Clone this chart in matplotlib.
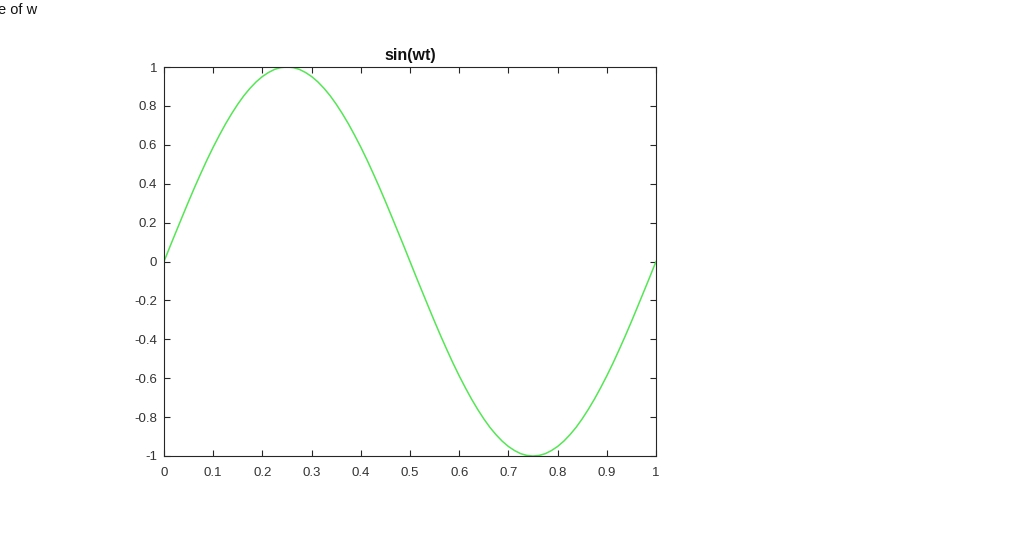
import matplotlib
matplotlib.use("Agg")
import matplotlib.pyplot as plt

# time samples (s) and sin(wt) values
t = [0.0000, 0.0125, 0.0250, 0.0375, 0.0500, 0.0625, 0.0750, 0.0875, 0.1000, 0.1125,
     0.1250, 0.1375, 0.1500, 0.1625, 0.1750, 0.1875, 0.2000, 0.2125, 0.2250, 0.2375,
     0.2500, 0.2625, 0.2750, 0.2875, 0.3000, 0.3125, 0.3250, 0.3375, 0.3500, 0.3625,
     0.3750, 0.3875, 0.4000, 0.4125, 0.4250, 0.4375, 0.4500, 0.4625, 0.4750, 0.4875,
     0.5000, 0.5125, 0.5250, 0.5375, 0.5500, 0.5625, 0.5750, 0.5875, 0.6000, 0.6125,
     0.6250, 0.6375, 0.6500, 0.6625, 0.6750, 0.6875, 0.7000, 0.7125, 0.7250, 0.7375,
     0.7500, 0.7625, 0.7750, 0.7875, 0.8000, 0.8125, 0.8250, 0.8375, 0.8500, 0.8625,
     0.8750, 0.8875, 0.9000, 0.9125, 0.9250, 0.9375, 0.9500, 0.9625, 0.9750, 0.9875,
     1.0000]
y = [0.000, 0.079, 0.156, 0.233, 0.309, 0.383, 0.454, 0.523, 0.588, 0.649,
     0.707, 0.760, 0.809, 0.853, 0.891, 0.924, 0.951, 0.972, 0.988, 0.997,
     1.000, 0.997, 0.988, 0.972, 0.951, 0.924, 0.891, 0.853, 0.809, 0.760,
     0.707, 0.649, 0.588, 0.523, 0.454, 0.383, 0.309, 0.233, 0.156, 0.079,
     0.000, -0.079, -0.156, -0.233, -0.309, -0.383, -0.454, -0.523, -0.588, -0.649,
     -0.707, -0.760, -0.809, -0.853, -0.891, -0.924, -0.951, -0.972, -0.988, -0.997,
     -1.000, -0.997, -0.988, -0.972, -0.951, -0.924, -0.891, -0.853, -0.809, -0.760,
     -0.707, -0.649, -0.588, -0.523, -0.454, -0.383, -0.309, -0.233, -0.156, -0.079,
     0.000]
xticks = [0, 0.1, 0.2, 0.3, 0.4, 0.5, 0.6, 0.7, 0.8, 0.9, 1]
xticklabels = ["0", "0.1", "0.2", "0.3", "0.4", "0.5", "0.6", "0.7", "0.8", "0.9", "1"]
yticks = [-1, -0.8, -0.6, -0.4, -0.2, 0, 0.2, 0.4, 0.6, 0.8, 1]
yticklabels = ["-1", "-0.8", "-0.6", "-0.4", "-0.2", "0", "0.2", "0.4", "0.6", "0.8", "1"]

plt.rcParams['font.family'] = ['Liberation Sans', 'DejaVu Sans']

fig = plt.figure(figsize=(10.24, 5.59), dpi=100)
ax = fig.add_axes([164/1024, 1-456/559, (656-164)/1024, (456-67)/559])

ax.plot(t, y, color='#55e655', linewidth=1.1)
ax.set_xlim(0, 1)
ax.set_ylim(-1, 1)
ax.set_xticks(xticks)
ax.set_xticklabels(xticklabels)
ax.set_yticks(yticks)
ax.set_yticklabels(yticklabels)

dark = '#262626'
for s in ax.spines.values():
    s.set_color(dark)
    s.set_linewidth(0.8)
ax.tick_params(direction='in', top=True, right=True, length=4, width=0.8,
               color=dark, labelcolor='#333333', labelsize=9.5)
ax.tick_params(axis='x', pad=8)
ax.tick_params(axis='y', pad=5)

ax.set_title('sin(wt)', fontsize=11.5, fontweight='bold', color='#111111', pad=5)

fig.text(-0.002, 1-10/559, 'e of w', fontsize=10.5, color='#111111', va='center', ha='left')

fig.savefig('out.png', dpi=100)
